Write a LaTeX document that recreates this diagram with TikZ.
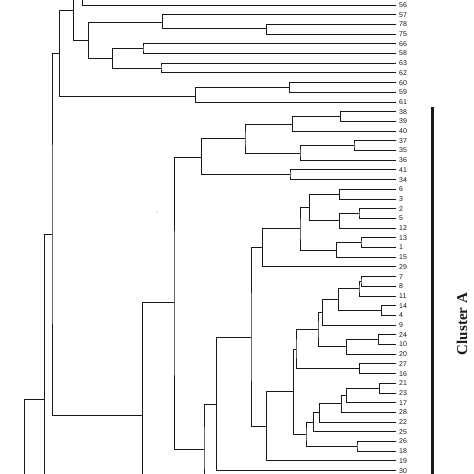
\documentclass[tikz,border=0pt]{standalone}
\usepackage{fontspec}
\setmainfont{Liberation Sans}
\newfontfamily\serifbold{Liberation Serif}
\usetikzlibrary{calc}
\tikzset{
  dl/.style={draw=black!90, line width=0.95pt},
  lab/.style={anchor=west, inner sep=0pt, font=\fontsize{7}{7}\selectfont, text=black!90},
}
\newcommand\brk[3]{\draw[dl] (#2) -| (#1) |- (#3);}
\begin{document}
\begin{tikzpicture}[x=1pt,y=-1pt]
\useasboundingbox (0,0) rectangle (474,474);
\clip (0,0) rectangle (474,474);
% leaves
\foreach \n/\i in {56/0,57/1,78/2,75/3,66/4,58/5,63/6,62/7,60/8,59/9,61/10,
  38/11,39/12,40/13,37/14,35/15,36/16,41/17,34/18,6/19,3/20,2/21,5/22,12/23,
  13/24,1/25,15/26,29/27,7/28,8/29,11/30,14/31,4/32,9/33,24/34,10/35,20/36,
  27/37,16/38,21/39,23/40,17/41,28/42,22/43,25/44,26/45,18/46,19/47,30/48}{
  \coordinate (L\n) at (396,{5+9.7*\i});
  \node[lab] (T\n) at (399,{5+9.7*\i}) {\n};
}
% upper group
\coordinate (n78) at (266.7,28.9); \brk{n78}{L78}{L75}
\coordinate (n57) at (162.3,22); \brk{n57}{L57}{n78}
\coordinate (n66) at (143,48.6); \brk{n66}{L66}{L58}
\coordinate (n63) at (161,68); \brk{n63}{L63}{L62}
\coordinate (n66b) at (112.3,58.5); \brk{n66b}{n66}{n63}
\coordinate (n57b) at (88.3,40.5); \brk{n57b}{n57}{n66b}
\coordinate (n60) at (289.3,87.4); \brk{n60}{L60}{L59}
\coordinate (n61) at (195.7,96.5); \brk{n61}{n60}{L61}
\coordinate (topA) at (73.3,-10);
\coordinate (n73) at (73.3,10); \brk{n73}{topA}{n57b}
\coordinate (n59) at (59.3,53); \brk{n59}{n73}{n61}
\coordinate (top56) at (82.7,-10);
\draw[dl] (top56) |- (L56);
% cluster A
\coordinate (n38) at (340.7,116.5); \brk{n38}{L38}{L39}
\coordinate (n40) at (292.7,124); \brk{n40}{n38}{L40}
\coordinate (n37) at (354,145.6); \brk{n37}{L37}{L35}
\coordinate (n36) at (300,153); \brk{n36}{n37}{L36}
\coordinate (nA1) at (245,138.5); \brk{nA1}{n40}{n36}
\coordinate (n41) at (290,174.7); \brk{n41}{L41}{L34}
\coordinate (nA2) at (201.7,157); \brk{nA2}{nA1}{n41}
\coordinate (n6) at (339.3,194); \brk{n6}{L6}{L3}
\coordinate (n2) at (359,213.5); \brk{n2}{L2}{L5}
\coordinate (n12) at (339.3,220.7); \brk{n12}{n2}{L12}
\coordinate (n6b) at (309.3,207.4); \brk{n6b}{n6}{n12}
\coordinate (n13) at (361,242.6); \brk{n13}{L13}{L1}
\coordinate (n15) at (336.7,250); \brk{n15}{n13}{L15}
\coordinate (n6c) at (300,228.7); \brk{n6c}{n6b}{n15}
\coordinate (n29) at (262.7,247.7); \brk{n29}{n6c}{L29}
\coordinate (n7) at (361,281.4); \brk{n7}{L7}{L8}
\coordinate (n11) at (359,288.6); \brk{n11}{n7}{L11}
\coordinate (n14) at (381.7,310.5); \brk{n14}{L14}{L4}
\coordinate (n7b) at (338.3,299.5); \brk{n7b}{n11}{n14}
\coordinate (n9) at (322.7,312.3); \brk{n9}{n7b}{L9}
\coordinate (n24) at (378.3,339.6); \brk{n24}{L24}{L10}
\coordinate (n20) at (346.7,346.8); \brk{n20}{n24}{L20}
\coordinate (n7c) at (318,329.5); \brk{n7c}{n9}{n20}
\coordinate (n27) at (359.3,368.7); \brk{n27}{L27}{L16}
\coordinate (nX1) at (296,349); \brk{nX1}{n7c}{n27}
\coordinate (n21) at (379.3,388); \brk{n21}{L21}{L23}
\coordinate (n17) at (346.7,395.3); \brk{n17}{n21}{L17}
\coordinate (n28) at (341.7,403.8); \brk{n28}{n17}{L28}
\coordinate (n22) at (319.3,412.9); \brk{n22}{n28}{L22}
\coordinate (n25) at (313.3,422.3); \brk{n25}{n22}{L25}
\coordinate (n26) at (357,446.3); \brk{n26}{L26}{L18}
\coordinate (n26b) at (306,434.3); \brk{n26b}{n25}{n26}
\coordinate (nX2) at (293.7,391.7); \brk{nX2}{nX1}{n26b}
\coordinate (n19) at (266.7,426.3); \brk{n19}{nX2}{L19}
\coordinate (nB) at (251,337); \brk{nB}{n29}{n19}
\coordinate (n30) at (216.7,404); \brk{n30}{nB}{L30}
% lower links (running off the picture)
\coordinate (n204) at (204,449); \coordinate (b204) at (204,490); \brk{n204}{n30}{b204}
\coordinate (n174) at (174,302.5); \brk{n174}{nA2}{n204}
\coordinate (n142) at (142.7,415); \coordinate (b142) at (142.7,490); \brk{n142}{n174}{b142}
\coordinate (n52) at (52,234); \brk{n52}{n59}{n142}
\coordinate (n44) at (44.3,399); \coordinate (b44) at (44.3,490); \brk{n44}{n52}{b44}
\coordinate (b24) at (24,490);
\draw[dl] (n44) -| (b24);
% cluster bar and label
\coordinate (barT) at (432,107); \coordinate (barB) at (432,490);
\draw[line width=3pt, black!90] (barT) -- (barB);
\node[rotate=90, font=\serifbold\bfseries\fontsize{15}{15}\selectfont, text=black!90] (clA) at (462,324) {Cluster A};
\fill[black!50] (157,212) circle (0.5);
\end{tikzpicture}
\end{document}
